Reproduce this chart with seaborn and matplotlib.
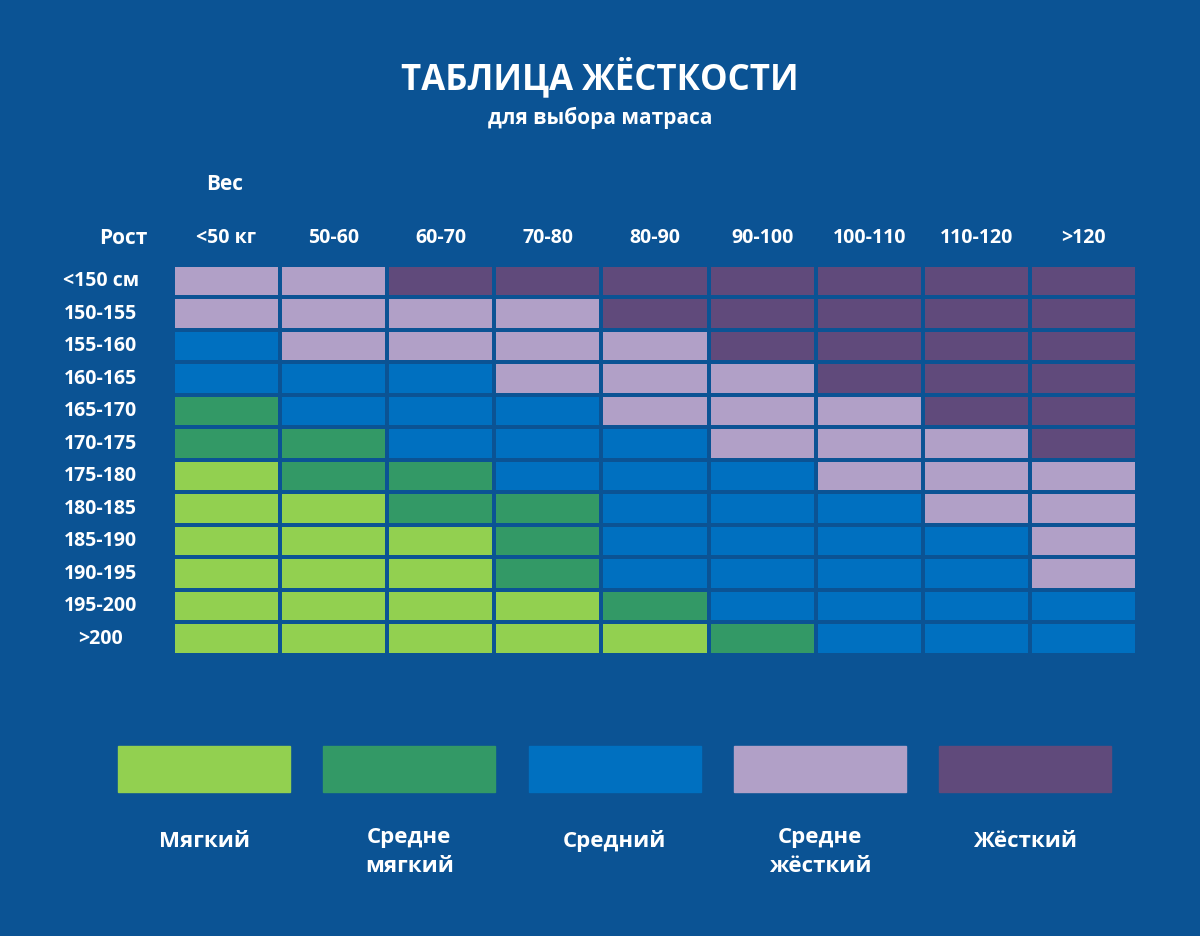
import numpy as np
import pandas as pd
import matplotlib.pyplot as plt
import seaborn as sns
from matplotlib.colors import ListedColormap
from matplotlib.patches import Rectangle

bg = '#0B5394'
weights = ['<50 кг', '50-60', '60-70', '70-80', '80-90', '90-100', '100-110', '110-120', '>120']
heights = ['<150 см', '150-155', '155-160', '160-165', '165-170', '170-175',
           '175-180', '180-185', '185-190', '190-195', '195-200', '>200']
levels = ['Мягкий', 'Средне\nмягкий', 'Средний', 'Средне\nжёсткий', 'Жёсткий']
colors = ['#92D050', '#339966', '#0070C0', '#B1A0C7', '#604A7B']

# 0 soft ... 4 hard
grid = [
    [3, 3, 4, 4, 4, 4, 4, 4, 4],
    [3, 3, 3, 3, 4, 4, 4, 4, 4],
    [2, 3, 3, 3, 3, 4, 4, 4, 4],
    [2, 2, 2, 3, 3, 3, 4, 4, 4],
    [1, 2, 2, 2, 3, 3, 3, 4, 4],
    [1, 1, 2, 2, 2, 3, 3, 3, 4],
    [0, 1, 1, 2, 2, 2, 3, 3, 3],
    [0, 0, 1, 1, 2, 2, 2, 3, 3],
    [0, 0, 0, 1, 2, 2, 2, 2, 3],
    [0, 0, 0, 1, 2, 2, 2, 2, 3],
    [0, 0, 0, 0, 1, 2, 2, 2, 2],
    [0, 0, 0, 0, 0, 1, 2, 2, 2],
]
df = pd.DataFrame(grid, index=heights, columns=weights)

plt.rcParams['font.family'] = 'Open Sans'
W, H = 1200, 936
fig = plt.figure(figsize=(12, 9.36), dpi=100, facecolor=bg)
ax = fig.add_axes([173 / W, 1 - 655 / H, 964 / W, 390 / H])
sns.heatmap(df, ax=ax, cmap=ListedColormap(colors), vmin=-0.5, vmax=4.5, cbar=False,
            linewidths=2.8, linecolor=bg)
ax.set_facecolor(bg)
ax.xaxis.tick_top()
ax.tick_params(length=0, pad=12)
ax.set_xticklabels(weights, rotation=0, color='white', fontsize=14, fontweight='bold')
ax.set_yticklabels(heights, rotation=0, color='white', fontsize=14, fontweight='bold', ha='center')
ax.tick_params(axis='y', pad=52)
ax.set_xlabel('')
ax.set_ylabel('')

fig.text(0.5, 1 - 78 / H, 'ТАБЛИЦА ЖЁСТКОСТИ', color='white', fontsize=25, fontweight='bold',
         ha='center', va='center')
fig.text(0.5, 1 - 118 / H, 'для выбора матраса', color='white', fontsize=15, fontweight='bold',
         ha='center', va='center')
fig.text(225 / W, 1 - 185 / H, 'Вес', color='white', fontsize=15, fontweight='bold',
         ha='center', va='center')
fig.text(123 / W, 1 - 238 / H, 'Рост', color='white', fontsize=15, fontweight='bold',
         ha='center', va='center')

# legend
for i, (lab, c) in enumerate(zip(levels, colors)):
    x0 = 118 + i * 205.3
    fig.patches.append(Rectangle((x0 / W, 1 - 792 / H), 172 / W, 46 / H, color=c,
                                 transform=fig.transFigure))
    fig.text((x0 + 86) / W, 1 - 852 / H, lab, color='white', fontsize=16, fontweight='bold',
             ha='center', va='center' if '\n' in lab else 'bottom', linespacing=1.5)

fig.savefig('out.png', dpi=100, facecolor=bg)
